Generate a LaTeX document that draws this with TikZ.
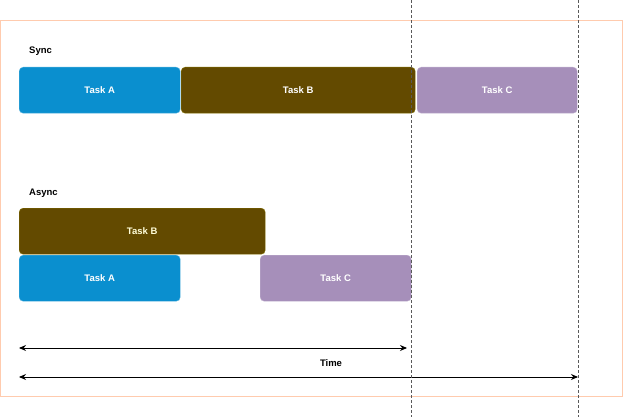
\documentclass[tikz,border=0pt]{standalone}
\usepackage{fontspec}
\setmainfont{Liberation Sans}
\usetikzlibrary{arrows.meta}
\definecolor{taskblue}{HTML}{0A8FCF}
\definecolor{taskbrown}{HTML}{634A00}
\definecolor{taskpurple}{HTML}{A68FBA}
\definecolor{frameorange}{HTML}{FFCBAE}
\tikzset{
	task/.style={rounded corners=4pt, anchor=north west, inner sep=0pt, minimum height=46pt, font=\fontsize{9.5}{11}\selectfont\bfseries, text=white},
	rowlabel/.style={anchor=west, inner sep=0pt, font=\fontsize{9.5}{11}\selectfont\bfseries},
	timearrow/.style={{Stealth[length=7pt,width=6pt]}-{Stealth[length=7pt,width=6pt]}, line width=0.9pt}
}
\begin{document}
\begin{tikzpicture}[x=1pt,y=-1pt]
	\useasboundingbox (0,0) rectangle (624,417);
	\draw [frameorange, line width=0.8pt] (0.5,20) rectangle (622,396);
	% sync
	\node [rowlabel] (sync) at (29,51) {Sync};
	\node [task, fill=taskblue, draw=taskblue!70, minimum width=161pt] (sa) at (19,67) {Task A};
	\node [task, fill=taskbrown, draw=taskbrown!80!yellow, minimum width=234pt] (sb) at (181,67) {Task B};
	\node [task, fill=taskpurple, draw=taskpurple!70, minimum width=160pt] (sc) at (417,67) {Task C};
	% async
	\node [rowlabel] (async) at (29,193) {Async};
	\node [task, fill=taskbrown, draw=taskbrown!80!yellow, minimum width=246pt, text=yellow!15] (ab) at (19,208) {Task B};
	\node [task, fill=taskblue, draw=taskblue!70, minimum width=161pt] (aa) at (19,255) {Task A};
	\node [task, fill=taskpurple, draw=taskpurple!70, minimum width=151pt] (ac) at (260,255) {Task C};
	% time
	\coordinate (t0) at (19,348);
	\coordinate (t1) at (407,348);
	\coordinate (u0) at (19,377);
	\coordinate (u1) at (578,377);
	\draw [timearrow] (t0) -- (t1);
	\draw [timearrow] (u0) -- (u1);
	\node [rowlabel, anchor=center] (time) at (331,363) {Time};
	% markers
	\draw [densely dashed, gray!70!black, line width=0.6pt] (411,0) -- (411,417);
	\draw [densely dashed, gray!70!black, line width=0.6pt] (578,0) -- (578,417);
\end{tikzpicture}
\end{document}
